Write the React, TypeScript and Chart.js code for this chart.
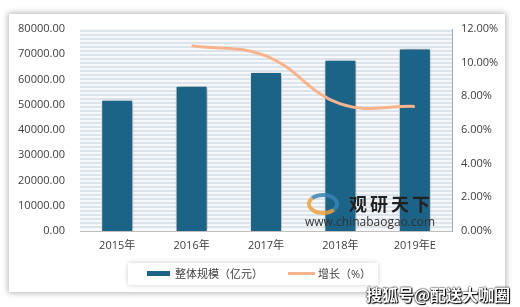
import React, { useEffect, useRef } from "react";
import { Chart, registerables } from "chart.js";
Chart.register(...registerables);

const categories = ["2015年", "2016年", "2017年", "2018年", "2019年E"];
const scaleValues = [52000, 57500, 63000, 67800, 72300];
const growthValues = [null, 11.0, 10.4, 7.55, 7.4];
const seriesNames = ["整体规模（亿元）", "增长（%）"];

const BAR_COLOR = "#1b6488";
const LINE_COLOR = "#f8b38c";
const FONT = "'Open Sans', 'Noto Sans CJK SC', sans-serif";

const stripes = {
  id: "stripes",
  beforeDatasetsDraw(chart: any) {
    const { ctx, chartArea: a } = chart;
    ctx.save();
    ctx.fillStyle = "#f6f8fa";
    ctx.fillRect(a.left, a.top, a.right - a.left, a.bottom - a.top);
    ctx.fillStyle = "#dce4eb";
    for (let y = a.top + 1; y < a.bottom - 1; y += 4) {
      ctx.fillRect(a.left, y, a.right - a.left, 2);
    }
    ctx.restore();
  },
  beforeDatasetDraw(chart: any, args: any) {
    if (args.index === 0) {
      const ctx = chart.ctx;
      ctx.save();
      ctx.shadowColor = "rgba(0,0,0,0.45)";
      ctx.shadowBlur = 5;
      ctx.shadowOffsetX = 1;
      ctx.shadowOffsetY = 1;
    }
  },
  afterDatasetDraw(chart: any, args: any) {
    if (args.index === 0) chart.ctx.restore();
  },
};

export default function App() {
  const ref = useRef<HTMLCanvasElement>(null);
  useEffect(() => {
    const chart = new Chart(ref.current!, {
      type: "bar",
      data: {
        labels: categories,
        datasets: [
          {
            type: "bar",
            label: seriesNames[0],
            data: scaleValues,
            backgroundColor: BAR_COLOR,
            borderColor: "#ffffff",
            borderWidth: 1,
            barPercentage: 0.86,
            categoryPercentage: 0.5,
            yAxisID: "y",
            order: 2,
          },
          {
            type: "line",
            label: seriesNames[1],
            data: growthValues as any,
            borderColor: LINE_COLOR,
            borderWidth: 3,
            pointRadius: 0,
            tension: 0.4,
            fill: false,
            yAxisID: "y1",
            order: 1,
          },
        ],
      },
      options: {
        animation: false,
        responsive: false,
        layout: { padding: { top: 29, bottom: 46, left: 0, right: 0 } },
        plugins: { legend: { display: false }, tooltip: { enabled: false } },
        scales: {
          x: {
            grid: { display: false, drawTicks: false },
            border: { display: true, color: "#bfbfbf" },
            ticks: { color: "#404040", font: { family: FONT, size: 11 }, padding: 8 },
            afterFit: (s: any) => { s.height = 30; },
          },
          y: {
            position: "left",
            min: 0,
            max: 80000,
            grid: { display: false, drawTicks: false },
            border: { display: false },
            ticks: {
              stepSize: 10000,
              color: "#404040",
              font: { family: FONT, size: 11 },
              padding: 15,
              callback: (v: any) => Number(v).toFixed(2),
            },
            afterFit: (s: any) => { s.width = 80; },
          },
          y1: {
            position: "right",
            min: 0,
            max: 12,
            grid: { display: false, drawOnChartArea: false, drawTicks: true, tickLength: 3, color: "#a6a6a6" },
            border: { display: true, color: "#a6a6a6" },
            ticks: {
              stepSize: 2,
              color: "#404040",
              font: { family: FONT, size: 11 },
              padding: 6,
              callback: (v: any) => Number(v).toFixed(2) + "%",
            },
            afterFit: (s: any) => { s.width = 68; },
          },
        },
      },
      plugins: [stripes],
    });
    return () => chart.destroy();
  }, []);

  return (
    <div style={{ position: "absolute", left: 0, top: 0, width: 520, height: 307, background: "#fff", overflow: "hidden", fontFamily: FONT }}>
      <div style={{ position: "absolute", left: 9, top: 14, width: 496, height: 278, background: "#fff", boxShadow: "0 0 6px 1px rgba(0,0,0,0.3)" }} />
      <canvas ref={ref} width={520} height={307} style={{ position: "absolute", left: 0, top: 0 }} />
      <div style={{ position: "absolute", left: 305, top: 190, width: 140, height: 40, pointerEvents: "none" }}>
        <div style={{ position: "absolute", left: 2, top: 3, width: 32, height: 22, borderRadius: "50%", border: "4px solid #f0a23c", borderRightColor: "#3a84b8", borderTopColor: "#3a84b8", boxSizing: "border-box", opacity: 0.85 }} />
        <div style={{ position: "absolute", left: 44, top: 0, fontSize: 18, fontWeight: 700, color: "#222", letterSpacing: 3, fontFamily: "'Noto Sans CJK SC', sans-serif" }}>观研天下</div>
        <div style={{ position: "absolute", left: 0, top: 26, fontSize: 12, color: "#333", lineHeight: "12px" }}>www.chinabaogao.com</div>
      </div>
      <div style={{ position: "absolute", left: 128, top: 263, width: 250, height: 22, background: "#fff", boxShadow: "0 0 5px rgba(0,0,0,0.2)", fontSize: 11, color: "#404040", fontFamily: FONT }}>
        <div style={{ position: "absolute", left: 19, top: 8, width: 23, height: 5, background: BAR_COLOR }} />
        <div style={{ position: "absolute", left: 47, top: 3, lineHeight: "16px" }}>{seriesNames[0]}</div>
        <div style={{ position: "absolute", left: 160, top: 9, width: 27, height: 3, background: LINE_COLOR }} />
        <div style={{ position: "absolute", left: 190, top: 3, lineHeight: "16px" }}>{seriesNames[1]}</div>
      </div>
      <div style={{ position: "absolute", left: 366, top: 282, fontSize: 16, fontWeight: 700, color: "#fff", fontFamily: "'Noto Sans CJK SC', sans-serif", textShadow: "0 0 2px #000, 0 0 1px #000, 1px 1px 1px #000" }}>搜狐号@配送大咖圈</div>
    </div>
  );
}
